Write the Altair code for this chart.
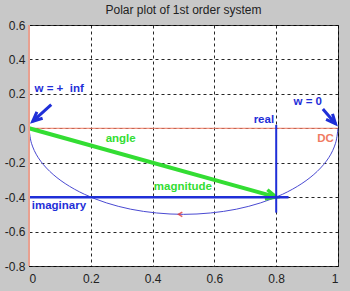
import altair as alt
import pandas as pd

# ---- data ----
circle_x = [0.0, 0.008, 0.030, 0.067, 0.117, 0.179, 0.25, 0.329, 0.413, 0.5,
            0.587, 0.671, 0.75, 0.821, 0.883, 0.933, 0.970, 0.992, 1.0]
circle_y = [0.0, -0.087, -0.171, -0.25, -0.321, -0.383, -0.433, -0.470, -0.492, -0.5,
            -0.492, -0.470, -0.433, -0.383, -0.321, -0.25, -0.171, -0.087, 0.0]

# segments: x, y, x2, y2
salmon_v = [[0.0, 0.6, 0.0, -0.8]]
salmon_h = [[0.0, 0.0, 1.0, 0.0]]
blue_h = [[0.0, -0.4, 0.84, -0.4]]
blue_v = [[0.8, 0.02, 0.8, -0.49]]
green_seg = [[0.0, 0.0, 0.8, -0.4]]
blue_arrows = [[0.072, 0.137, 0.012, 0.04], [0.951, 0.112, 0.992, 0.026]]
blue_arrow_angles = [228, 139]
green_arrow_angle = [106]
red_marker = [[0.49, -0.5]]

blue_labels = ["w = +\u00a0 inf", "w = 0", "real", "imaginary"]
blue_lx = [0.018, 0.856, 0.727, 0.009]
blue_ly = [0.208, 0.137, 0.030, -0.469]
green_labels = ["angle", "magnitude"]
green_lx = [0.248, 0.404]
green_ly = [-0.080, -0.357]
dc_label = ["DC"]
dc_lx = [0.933]
dc_ly = [-0.077]

x_ticks = [0, 0.2, 0.4, 0.6, 0.8, 1]
y_ticks = [-0.8, -0.6, -0.4, -0.2, 0, 0.2, 0.4, 0.6]

FONT = "Liberation Sans"
BLUE = "#1f2fd8"
GREEN = "#33dd33"
SALMON = "#f07a62"

xs = alt.Scale(domain=[0, 1], nice=False, zero=False)
ys = alt.Scale(domain=[-0.8, 0.6], nice=False, zero=False)
LABEL_FIX = "replace(datum.label, '\u2212', '-')"
X_AX = alt.Axis(values=x_ticks, grid=True, format="~g", labelExpr=LABEL_FIX)
Y_AX = alt.Axis(values=y_ticks, grid=True, format="~g", labelExpr=LABEL_FIX)


def X(field="x"):
    return alt.X(f"{field}:Q", scale=xs, title=None, axis=X_AX)


def Y(field="y"):
    return alt.Y(f"{field}:Q", scale=ys, title=None, axis=Y_AX)


def seg_df(rows):
    return pd.DataFrame(rows, columns=["x", "y", "x2", "y2"])


def seg_layer(rows, color, width):
    return alt.Chart(seg_df(rows)).mark_rule(color=color, strokeWidth=width).encode(
        x=X(), y=Y(), x2="x2:Q", y2="y2:Q")


circle_df = pd.DataFrame({"i": list(range(len(circle_x))), "x": circle_x, "y": circle_y})
circle = alt.Chart(circle_df).mark_line(color="#4a4ad2", strokeWidth=1, interpolate="cardinal").encode(
    x=X(), y=Y(), order="i:Q")

V_PATH = "M-0.45,1 L0,0 L0.45,1"

arrow_tips = pd.DataFrame({"x": [r[2] for r in blue_arrows], "y": [r[3] for r in blue_arrows],
                           "a": blue_arrow_angles})
blue_heads = alt.Chart(arrow_tips).mark_point(shape=V_PATH, filled=False, color=BLUE, strokeWidth=3,
                                              size=360, opacity=1, strokeJoin="miter").encode(
    x=X(), y=Y(), angle=alt.Angle("a:Q", scale=None))

green_tip = pd.DataFrame({"x": [green_seg[0][2]], "y": [green_seg[0][3]], "a": green_arrow_angle})
green_head = alt.Chart(green_tip).mark_point(shape=V_PATH, filled=False, color=GREEN, strokeWidth=3.5,
                                             size=440, opacity=1, strokeJoin="miter").encode(
    x=X(), y=Y(), angle=alt.Angle("a:Q", scale=None))

red_df = pd.DataFrame(red_marker, columns=["x", "y"])
red_head = alt.Chart(red_df).mark_point(shape="M0.6,-0.7 L-0.6,0 L0.6,0.7", filled=False, color="#e03a3a",
                                        strokeWidth=1.5, size=40, opacity=0.8).encode(x=X(), y=Y())


def text_layer(labels, lx, ly, color):
    df = pd.DataFrame({"t": labels, "x": lx, "y": ly})
    return alt.Chart(df).mark_text(align="left", baseline="alphabetic", font=FONT, fontSize=11.5,
                                   fontWeight="bold", color=color).encode(x=X(), y=Y(), text="t:N")


chart = alt.layer(
    seg_layer(salmon_h, SALMON, 1),
    circle,
    seg_layer(green_seg, GREEN, 4),
    green_head,
    seg_layer(blue_h, BLUE, 2.5),
    seg_layer(blue_v, BLUE, 2),
    seg_layer(blue_arrows, BLUE, 3),
    blue_heads,
    seg_layer(salmon_v, "#e8a090", 2),
    red_head,
    text_layer(blue_labels, blue_lx, blue_ly, BLUE),
    text_layer(green_labels, green_lx, green_ly, GREEN),
    text_layer(dc_label, dc_lx, dc_ly, SALMON),
).properties(
    width=309, height=241,
    title=alt.TitleParams("Polar plot of 1st order system", font=FONT, fontSize=12, fontWeight="normal",
                          color="#222222", offset=2, anchor="middle"),
    autosize=alt.AutoSizeParams(type="none"),
    padding={"left": 29, "top": 25, "right": 12, "bottom": 25},
    background="#c8c8c8",
).configure_view(
    fill="white", stroke="#333333", strokeWidth=1
).configure_axis(
    grid=True, gridColor="#000000", gridDash=[3, 3], gridWidth=1, gridOpacity=0.85,
    domain=False, ticks=False, labelFont=FONT, labelFontSize=12, labelColor="#222222",
).configure_axisX(labelPadding=7).configure_axisY(labelPadding=4)

chart.save("out.html", embed_options={"renderer": "svg", "actions": False})
